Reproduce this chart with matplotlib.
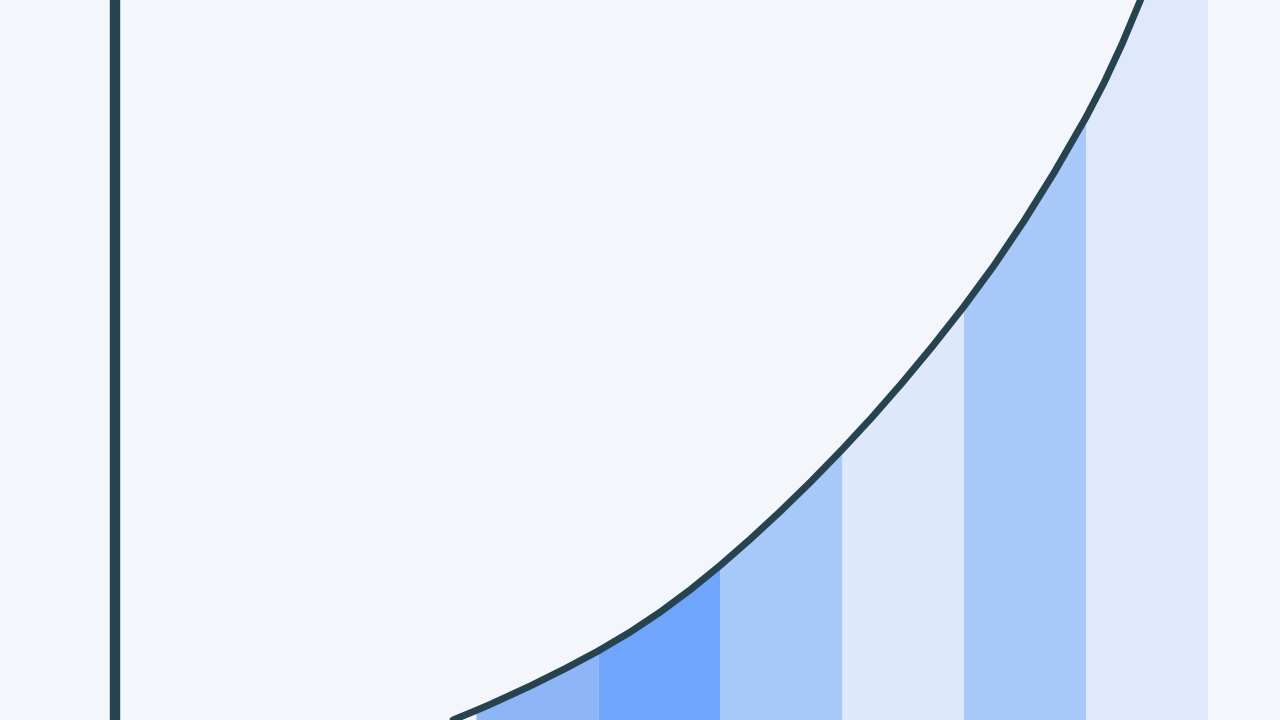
import numpy as np
import matplotlib
matplotlib.use("Agg")
import matplotlib.pyplot as plt

# curve samples
curve_x = [2.8115, 3.0, 3.1148, 3.4426, 3.7295, 4.0, 4.2623, 4.5082, 4.7541, 5.0,
           5.2459, 5.4918, 5.7377, 6.0, 6.2459, 6.4918, 6.7377, 7.0, 7.2459, 7.4918,
           7.7377, 8.0, 8.1475, 8.2951, 8.4426, 8.6066]
curve_y = [0.0, 0.0779, 0.1270, 0.2779, 0.4205, 0.5648, 0.7197, 0.8836, 1.0656, 1.2656,
           1.4803, 1.7074, 1.9467, 2.2156, 2.4811, 2.7623, 3.0582, 3.3910, 3.7254, 4.0902,
           4.4852, 4.9402, 5.2230, 5.5402, 5.8918, 6.3238]

# bands under the curve
band_edges = [3, 4, 5, 6, 7, 8, 9]
band_colors = ["#8db5f8", "#6fa6fb", "#a9c8fa", "#dde8fb", "#a9c8fa", "#dfe9fb"]

axis_x = 0.04
bg = "#f3f7fc"
line_color = "#27434f"

fig = plt.figure(figsize=(12.8, 7.2), dpi=100)
fig.patch.set_facecolor(bg)
ax = fig.add_axes([0, 0, 1, 1])
ax.set_facecolor(bg)
ax.set_xlim(-110 / 122, 1170 / 122)
ax.set_ylim(0, 720 / 122)
ax.axis("off")

cx = np.array(curve_x)
cy = np.array(curve_y)
for i, col in enumerate(band_colors):
    a, b = band_edges[i], band_edges[i + 1]
    inside = (cx > a) & (cx < b)
    xs = np.concatenate([[a], cx[inside], [b]])
    ya = np.interp(a, cx, cy)
    yb = np.interp(b, cx, cy) if b <= cx[-1] else 10.0
    ys = np.concatenate([[ya], cy[inside], [yb]])
    if b > cx[-1]:
        xs = np.concatenate([xs[:-1], [cx[-1], b]])
        ys = np.concatenate([ys[:-1], [10.0, 10.0]])
    ax.fill_between(xs, -1, ys, color=col, linewidth=0, zorder=1)

ax.plot(cx, cy, color=line_color, lw=5, solid_capstyle="round",
        solid_joinstyle="round", zorder=3)
ax.axvline(axis_x, color=line_color, lw=7.5, zorder=3)

fig.savefig("out.png", dpi=100, facecolor=bg)
